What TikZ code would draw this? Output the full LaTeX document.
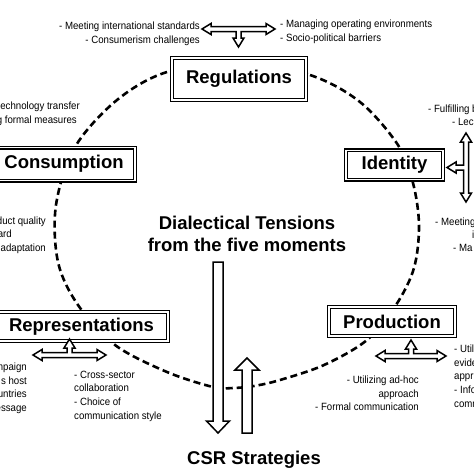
\documentclass[tikz,border=0pt]{standalone}
\usepackage{fontspec}
\setmainfont{Liberation Sans}
\newfontfamily\narrowsans[FakeStretch=0.92]{Liberation Sans}
\tikzset{
  box/.style={draw, double, line width=1.3pt, double distance=1.4pt, fill=white,
    inner sep=0pt, font=\fontsize{18.5}{22}\selectfont\bfseries},
  big/.style={font=\fontsize{18.5}{22}\selectfont\bfseries, inner sep=0pt},
  small/.style={font=\narrowsans\fontsize{10.5}{13.7}\selectfont, inner sep=0pt},
  circ/.style={dash pattern=on 7pt off 4pt, line width=2.6pt},
  blockarrow/.style={draw, fill=white, line width=1.5pt, line join=miter},
  pics/tarrow/.style 2 args={code={
    \draw[blockarrow] (-#1,0) -- (-#1+9,-5.5) -- (-#1+9,-2.5) -- (#1-9,-2.5) -- (#1-9,-5.5)
      -- (#1,0) -- (#1-9,5.5) -- (#1-9,2.5) -- (2.5,2.5) -- (2.5,#2-9) -- (5.5,#2-9)
      -- (0,#2) -- (-5.5,#2-9) -- (-2.5,#2-9) -- (-2.5,2.5) -- (-#1+9,2.5) -- (-#1+9,5.5) -- cycle;
  }}
}
\begin{document}
\begin{tikzpicture}[x=1pt,y=-1pt]
\useasboundingbox (0,0) rectangle (474,474);
\fill[white] (0,0) rectangle (474,474);

% dashed cycle of the five moments
\draw[circ] plot[smooth cycle, tension=0.55] coordinates {
  (239,62) (310,75) (360,102) (398,145) (413,183) (419,225) (414,268) (396,305)
  (367,340) (324,365) (280,380) (254,386) (233,388) (213,387) (167,372) (115,345)
  (78,305) (58,262) (56,205) (75,147) (117,100) (167,72)};

% central block arrows
\draw[blockarrow] (213,262) -- (223,262) -- (223,421) -- (229.5,421) -- (218,433)
  -- (206.5,421) -- (213,421) -- cycle;
\draw[blockarrow] (242,433) -- (252,433) -- (252,370) -- (259,370) -- (247,358)
  -- (235,370) -- (242,370) -- cycle;

% moments
\node[box, minimum width=134pt, minimum height=42pt] (reg) at (239,79) {Regulations};
\node[box, minimum width=142pt, minimum height=33pt] (con) at (64,164) {Consumption};
\node[box, minimum width=97pt, minimum height=29.5pt] (ide) at (394.5,165) {Identity};
\node[box, minimum width=173pt, minimum height=29pt] (rep) at (81.5,326.5) {Representations};
\node[box, minimum width=126pt, minimum height=29pt] (pro) at (392,321.5) {Production};

% T-shaped double arrows
\pic (treg) at (238.5,29) {tarrow={36.5}{18}};
\pic[yscale=-1] (trep) at (69.5,355) {tarrow={36.5}{16}};
\pic[yscale=-1] (tpro) at (411,356) {tarrow={35}{16}};
\pic[rotate=-90] (tide) at (466,167.5) {tarrow={34.5}{19}};

% centre texts
\node[big, align=center] (dt) at (247,234) {Dialectical Tensions\\from the five moments};
\node[big] (csr) at (254,460) {CSR Strategies};

% small texts
\node[small, anchor=north east, align=right] (mis) at (200,21.5)
  {- Meeting international standards\\- Consumerism challenges};
\node[small, anchor=north west, align=left] (mop) at (280,20)
  {- Managing operating environments\\- Socio-political barriers};
\node[small, anchor=north east, align=right] (tech) at (80,101.5)
  {echnology transfer\\g formal measures\hspace*{3pt}};
\node[small, anchor=base east] (pq) at (46,224) {duct quality};
\node[small, anchor=base east] (st) at (12,237.5) {ard};
\node[small, anchor=base east] (ad) at (46,251.5) {adaptation};
\node[small, anchor=north east, align=right] (camp) at (27,362.5)
  {mpaign\\s host\\untries\\essage};
\node[small, anchor=north west, align=left] (cross) at (74,370.5)
  {- Cross-sector\\collaboration\\- Choice of\\communication style};
\node[small, anchor=north east, align=right] (adhoc) at (419,375.5)
  {- Utilizing ad-hoc\\approach\\- Formal communication};
\node[small, anchor=north west, align=left] (util) at (454,344.5)
  {- Util\\evide\\appr\\- Info\\comm};
\node[small, anchor=base west] (ful) at (428,112.5) {- Fulfilling b};
\node[small, anchor=base west] (lec) at (452,125.5) {- Lec};
\node[small, anchor=base west] (meet) at (435,225.5) {- Meeting};
\node[small, anchor=base west] (mi) at (472,238.5) {i};
\node[small, anchor=base west] (ma) at (453,251.5) {- Ma};
\end{tikzpicture}
\end{document}
